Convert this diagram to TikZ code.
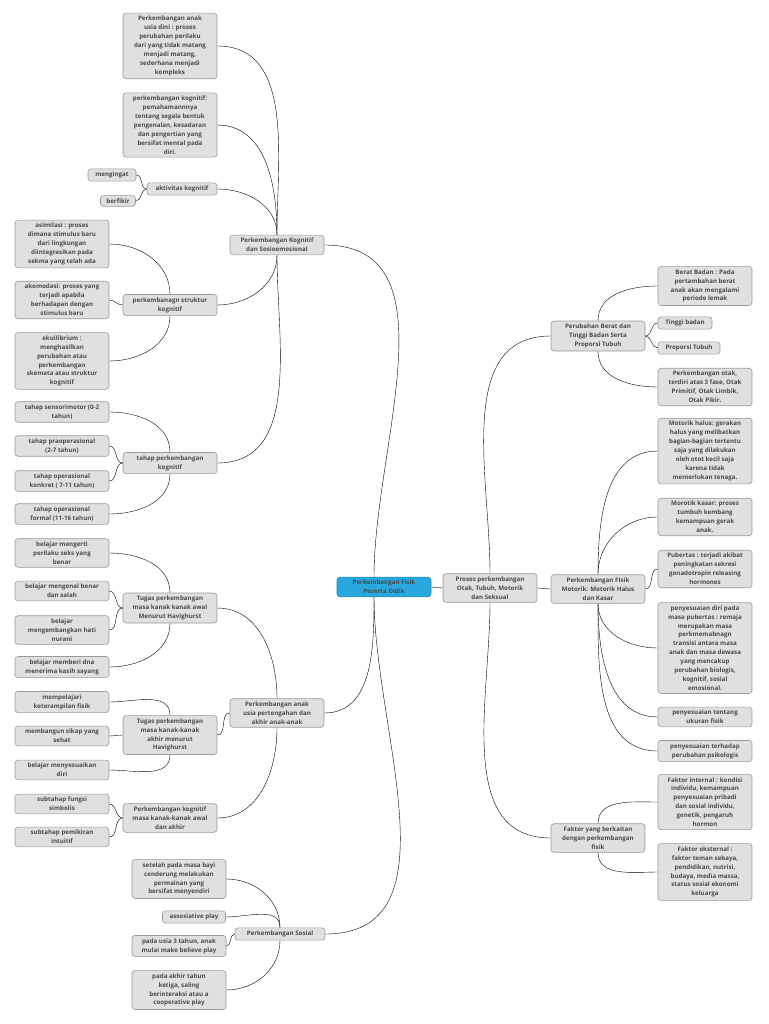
\documentclass[tikz,border=0pt]{standalone}
\usepackage{fontspec}
\setmainfont{Open Sans}
\begin{document}
\definecolor{boxfill}{HTML}{E0E0E0}
\definecolor{boxline}{HTML}{9A9A9A}
\definecolor{txt}{HTML}{4A4A4A}
\definecolor{blue1}{HTML}{29A8E0}
\begin{tikzpicture}[x=1pt,y=1pt,
  box/.style={rounded corners=3pt,draw=boxline,line width=0.6pt,fill=boxfill,text=txt,
    font=\fontsize{6.2}{8.9}\selectfont\bfseries,align=center,inner xsep=3pt,inner ysep=3pt},
  wb/.style={box,minimum width=94pt},
  ln/.style={draw=gray!70!black,line width=0.45pt},
  up/.style={ln,out=90,in=0},
  dn/.style={ln,out=-90,in=0},
  hz/.style={ln,out=180,in=0},
  rup/.style={ln,out=90,in=180},
  rdn/.style={ln,out=-90,in=180},
  rhz/.style={ln,out=0,in=180}]
\useasboundingbox (0,0) rectangle (768,-1024);
\fill[white] (0,0) rectangle (768,-1024);

\node[box,fill=blue1,draw=blue1!80!black,minimum width=94pt] (C) at (384,-587) {Perkembangan Fisik\\Peserta Didik};

% left level 1
\node[wb] (K) at (277,-245) {Perkembangan Kognitif\\dan Sosioemosional};
\node[wb] (A) at (277,-713) {Perkembangan anak\\usia pertengahan dan\\akhir anak-anak};
\node[box,minimum width=90pt] (S) at (280,-934) {Perkembangan Sosial};

% K children
\node[wb] (k1) at (170,-46) {Perkembangan anak\\usia dini : proses\\perubahan perilaku\\dari yang tidak matang\\menjadi matang,\\sederhana menjadi\\kompleks};
\node[wb] (k2) at (170,-125) {perkembangan kognitif:\\pemahamannnya\\tentang segala bentuk\\pengenalan, kesadaran\\dan pengertian yang\\bersifat mental pada\\diri.};
\node[box,minimum width=70pt] (k3) at (182,-189) {aktivitas kognitif};
\node[box,minimum width=48pt] (k31) at (112,-175) {mengingat};
\node[box,minimum width=35pt] (k32) at (118,-201) {berfikir};
\node[wb] (k4) at (170,-305) {perkembanagn struktur\\kognitif};
\node[wb] (k41) at (62,-244) {asimilasi : proses\\dimana stimulus baru\\dari lingkungan\\diintegrasikan pada\\sekma yang telah ada};
\node[wb] (k42) at (62,-300) {akomodasi: proses yang\\terjadi apabila\\berhadapan dengan\\stimulus baru};
\node[wb] (k43) at (62,-361) {ekuilibrium :\\menghasilkan\\perubahan atau\\perkembangan\\skemata atau struktur\\kognitif};
\node[wb] (k5) at (170,-463) {tahap perkembangan\\kognitif};
\node[wb] (k51) at (62,-412) {tahap sensorimotor (0-2\\tahun)};
\node[wb] (k52) at (62,-446) {tahap praoperasional\\(2-7 tahun)};
\node[wb] (k53) at (62,-481) {tahap operasional\\konkret ( 7-11 tahun)};
\node[wb] (k54) at (62,-514) {tahap operasional\\formal (11-16 tahun)};

% A children
\node[wb] (a1) at (170,-608) {Tugas perkembangan\\masa kanak kanak awal\\Menurut Havighurst};
\node[wb] (a11) at (62,-553) {belajar mengerti\\perilaku seks yang\\benar};
\node[wb] (a12) at (62,-591) {belajar mengenal benar\\dan salah};
\node[wb] (a13) at (62,-630) {belajar\\mengembangkan hati\\nurani};
\node[wb] (a14) at (62,-667) {belajar memberi dna\\menerima kasih sayang};
\node[wb] (a2) at (170,-735) {Tugas perkembangan\\masa kanak-kanak\\akhir menurut\\Havighurst};
\node[wb] (a21) at (62,-702) {mempelajari\\keterampilan fisik};
\node[wb] (a22) at (62,-736) {membangun sikap yang\\sehat};
\node[wb] (a23) at (62,-770) {belajar menyesuaikan\\diri};
\node[wb] (a3) at (170,-818) {Perkembangan kognitif\\masa kanak-kanak awal\\dan akhir};
\node[wb] (a31) at (62,-804) {subtahap fungsi\\simbolis};
\node[wb] (a32) at (62,-837) {subtahap pemikiran\\intuitif};

% S children
\node[wb] (s1) at (179,-879) {setelah pada masa bayi\\cenderung melakukan\\permainan yang\\bersifat menyendiri};
\node[box,minimum width=63pt] (s2) at (194,-917) {assosiative play};
\node[wb] (s3) at (179,-946) {pada usia 3 tahun, anak\\mulai make believe play};
\node[wb] (s4) at (179,-990) {pada akhir tahun\\ketiga, saling\\berinteraksi atau a\\cooperative play};

% right
\node[wb] (P) at (490,-588) {Proses perkembangan\\Otak, Tubuh, Motorik\\dan Seksual};
\node[wb] (p1) at (598,-336) {Perubahan Berat dan\\Tinggi Badan Serta\\Proporsi Tubuh};
\node[wb] (p11) at (705,-286) {Berat Badan : Pada\\pertambahan berat\\anak akan mengalami\\periode lemak};
\node[box,minimum width=54pt] (p12) at (685,-323) {Tinggi badan};
\node[box,minimum width=62pt] (p13) at (689,-348) {Proporsi Tubuh};
\node[wb] (p14) at (705,-387) {Perkembangan otak,\\terdiri atas 3 fase, Otak\\Primitif, Otak Limbik,\\Otak Pikir.};
\node[wb] (p2) at (598,-589) {Perkembangan FIsik\\Motorik: Motorik Halus\\dan Kasar};
\node[wb] (p21) at (705,-451) {Motorik halus: gerakan\\halus yang melibatkan\\bagian-bagian tertentu\\saja yang dilakukan\\oleh otot kecil saja\\karena tidak\\memerlukan tenaga.};
\node[wb] (p22) at (705,-517) {Morotik kasar: proses\\tumbuh kembang\\kemampuan gerak\\anak.};
\node[wb] (p23) at (705,-569) {Pubertas : terjadi akibat\\peningkatan sekresi\\gonadotropin releasing\\hormones};
\node[wb] (p24) at (705,-648) {penyesuaian diri pada\\masa pubertas : remaja\\merupakan masa\\perkmemabnagn\\transisi antara masa\\anak dan masa dewasa\\yang mencakup\\perubahan biologis,\\kognitif, sosial\\emosional.};
\node[wb] (p25) at (705,-717) {penyesuaian tentang\\ukuran fisik};
\node[wb] (p26) at (705,-751) {penyesuaian terhadap\\perubahan psikologis};
\node[wb] (p3) at (598,-838) {Faktor yang berkaitan\\dengan perkembangan\\fisik};
\node[wb] (p31) at (705,-802) {Faktor internal : kondisi\\individu, kemampuan\\penyesuaian pribadi\\dan sosial individu,\\genetik, pengaruh\\hormon};
\node[wb] (p32) at (705,-872) {Faktor eksternal :\\faktor teman sebaya,\\pendidikan, nutrisi,\\budaya, media massa,\\status sosial ekonomi\\keluarga};

% connectors
\coordinate (Cu) at ([xshift=-10pt]C.north);
\coordinate (Cd) at ([xshift=-10pt]C.south);
\draw (Cu) to[up] (K.east);
\draw (Cd) to[dn] (A.east);
\draw (Cd) to[dn] (S.east);
\draw (C.east) to[rhz] (P.west);

\draw (K.north) to[up] (k1.east);
\draw (K.north) to[up] (k2.east);
\draw (K.north) to[up] (k3.east);
\draw (K.south) to[dn] (k4.east);
\draw (K.south) to[dn] (k5.east);
\draw (k3.west) to[hz] (k31.east);
\draw (k3.west) to[hz] (k32.east);
\draw (k4.north) to[up] (k41.east);
\draw (k4.west) to[hz] (k42.east);
\draw (k4.south) to[dn] (k43.east);
\draw (k5.north) to[up] (k51.east);
\draw (k5.west) to[hz] (k52.east);
\draw (k5.west) to[hz] (k53.east);
\draw (k5.south) to[dn] (k54.east);

\draw (A.north) to[up] (a1.east);
\draw (A.west) to[hz] (a2.east);
\draw (A.south) to[dn] (a3.east);
\draw (a1.north) to[up] (a11.east);
\draw (a1.west) to[hz] (a12.east);
\draw (a1.west) to[hz] (a13.east);
\draw (a1.south) to[dn] (a14.east);
\draw (a2.north) to[up] (a21.east);
\draw (a2.west) to[hz] (a22.east);
\draw (a2.south) to[dn] (a23.east);
\draw (a3.west) to[hz] (a31.east);
\draw (a3.west) to[hz] (a32.east);

\draw (S.north) to[up] (s1.east);
\draw (S.north) to[up] (s2.east);
\draw (S.west) to[hz] (s3.east);
\draw (S.south) to[dn] (s4.east);

\draw (P.north) to[rup] (p1.west);
\draw (P.east) to[rhz] (p2.west);
\draw (P.south) to[rdn] (p3.west);
\draw (p1.north) to[rup] (p11.west);
\draw (p1.east) to[rhz] (p12.west);
\draw (p1.east) to[rhz] (p13.west);
\draw (p1.south) to[rdn] (p14.west);
\draw (p2.north) to[rup] (p21.west);
\draw (p2.north) to[rup] (p22.west);
\draw (p2.east) to[rhz] (p23.west);
\draw (p2.south) to[rdn] (p24.west);
\draw (p2.south) to[rdn] (p25.west);
\draw (p2.south) to[rdn] (p26.west);
\draw (p3.north) to[rup] (p31.west);
\draw (p3.south) to[rdn] (p32.west);
\end{tikzpicture}
\end{document}
